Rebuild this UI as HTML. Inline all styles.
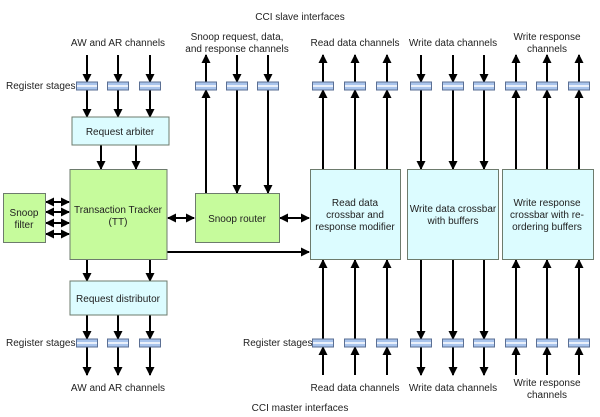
<!DOCTYPE html>
<html><head><style>
html,body{margin:0;padding:0;background:#fff;}
svg{display:block;}
text{font-family:"Liberation Sans",Arial,sans-serif;font-size:10px;fill:#222;}
</style></head><body>
<svg width="600" height="417" viewBox="0 0 600 417" xmlns="http://www.w3.org/2000/svg">
<defs>
<marker id="a" markerUnits="userSpaceOnUse" markerWidth="9" markerHeight="9" refX="8" refY="4.5" orient="auto"><path d="M0,0 L9,4.5 L0,9 z" fill="#000"/></marker>
<marker id="b" markerUnits="userSpaceOnUse" markerWidth="9" markerHeight="9" refX="1" refY="4.5" orient="auto"><path d="M9,0 L0,4.5 L9,9 z" fill="#000"/></marker>
<g id="reg"><rect x="-10.5" y="-4" width="21" height="8" fill="#a9c4ec" stroke="#5b6f93" stroke-width="1"/><line x1="-10" y1="0" x2="10" y2="0" stroke="#fff" stroke-width="1.5"/></g>
</defs>
<g stroke="#000" stroke-width="2" fill="none">
<!-- top AW/AR -->
<line x1="87" y1="55" x2="87" y2="82" marker-end="url(#a)"/><line x1="87" y1="90" x2="87" y2="117" marker-end="url(#a)"/>
<line x1="118" y1="55" x2="118" y2="82" marker-end="url(#a)"/><line x1="118" y1="90" x2="118" y2="117" marker-end="url(#a)"/>
<line x1="150" y1="55" x2="150" y2="82" marker-end="url(#a)"/><line x1="150" y1="90" x2="150" y2="117" marker-end="url(#a)"/>
<line x1="101" y1="145" x2="101" y2="169" marker-end="url(#a)"/><line x1="136" y1="145" x2="136" y2="169" marker-end="url(#a)"/>
<!-- snoop -->
<line x1="206" y1="82" x2="206" y2="55" marker-end="url(#a)"/><line x1="206" y1="193" x2="206" y2="90" marker-end="url(#a)"/>
<line x1="237" y1="55" x2="237" y2="82" marker-end="url(#a)"/><line x1="237" y1="90" x2="237" y2="193" marker-end="url(#a)"/>
<line x1="268" y1="55" x2="268" y2="82" marker-end="url(#a)"/><line x1="268" y1="90" x2="268" y2="193" marker-end="url(#a)"/>
<!-- read top -->
<line x1="323" y1="82" x2="323" y2="55" marker-end="url(#a)"/><line x1="323" y1="169" x2="323" y2="90" marker-end="url(#a)"/>
<line x1="355" y1="82" x2="355" y2="55" marker-end="url(#a)"/><line x1="355" y1="169" x2="355" y2="90" marker-end="url(#a)"/>
<line x1="387" y1="82" x2="387" y2="55" marker-end="url(#a)"/><line x1="387" y1="169" x2="387" y2="90" marker-end="url(#a)"/>
<!-- write top -->
<line x1="421" y1="55" x2="421" y2="82" marker-end="url(#a)"/><line x1="421" y1="90" x2="421" y2="169" marker-end="url(#a)"/>
<line x1="453" y1="55" x2="453" y2="82" marker-end="url(#a)"/><line x1="453" y1="90" x2="453" y2="169" marker-end="url(#a)"/>
<line x1="484" y1="55" x2="484" y2="82" marker-end="url(#a)"/><line x1="484" y1="90" x2="484" y2="169" marker-end="url(#a)"/>
<!-- wresp top -->
<line x1="516" y1="82" x2="516" y2="55" marker-end="url(#a)"/><line x1="516" y1="169" x2="516" y2="90" marker-end="url(#a)"/>
<line x1="547" y1="82" x2="547" y2="55" marker-end="url(#a)"/><line x1="547" y1="169" x2="547" y2="90" marker-end="url(#a)"/>
<line x1="579" y1="82" x2="579" y2="55" marker-end="url(#a)"/><line x1="579" y1="169" x2="579" y2="90" marker-end="url(#a)"/>
<!-- horizontal -->
<line x1="46" y1="202" x2="69" y2="202" marker-start="url(#b)" marker-end="url(#a)"/>
<line x1="46" y1="212" x2="69" y2="212" marker-start="url(#b)" marker-end="url(#a)"/>
<line x1="46" y1="223" x2="69" y2="223" marker-start="url(#b)" marker-end="url(#a)"/>
<line x1="46" y1="234" x2="69" y2="234" marker-start="url(#b)" marker-end="url(#a)"/>
<line x1="168" y1="218" x2="194" y2="218" marker-start="url(#b)" marker-end="url(#a)"/>
<line x1="280" y1="218" x2="309" y2="218" marker-start="url(#b)" marker-end="url(#a)"/>
<line x1="167" y1="252" x2="309" y2="252" marker-end="url(#a)"/>
<!-- distributor -->
<line x1="87" y1="260" x2="87" y2="281" marker-end="url(#a)"/><line x1="150" y1="260" x2="150" y2="281" marker-end="url(#a)"/>
<line x1="87" y1="315" x2="87" y2="339" marker-end="url(#a)"/><line x1="87" y1="347" x2="87" y2="375" marker-end="url(#a)"/>
<line x1="118" y1="315" x2="118" y2="339" marker-end="url(#a)"/><line x1="118" y1="347" x2="118" y2="375" marker-end="url(#a)"/>
<line x1="150" y1="315" x2="150" y2="339" marker-end="url(#a)"/><line x1="150" y1="347" x2="150" y2="375" marker-end="url(#a)"/>
<!-- read bottom -->
<line x1="323" y1="339" x2="323" y2="260" marker-end="url(#a)"/><line x1="323" y1="375" x2="323" y2="347" marker-end="url(#a)"/>
<line x1="355" y1="339" x2="355" y2="260" marker-end="url(#a)"/><line x1="355" y1="375" x2="355" y2="347" marker-end="url(#a)"/>
<line x1="387" y1="339" x2="387" y2="260" marker-end="url(#a)"/><line x1="387" y1="375" x2="387" y2="347" marker-end="url(#a)"/>
<!-- write bottom -->
<line x1="421" y1="260" x2="421" y2="339" marker-end="url(#a)"/><line x1="421" y1="347" x2="421" y2="375" marker-end="url(#a)"/>
<line x1="453" y1="260" x2="453" y2="339" marker-end="url(#a)"/><line x1="453" y1="347" x2="453" y2="375" marker-end="url(#a)"/>
<line x1="484" y1="260" x2="484" y2="339" marker-end="url(#a)"/><line x1="484" y1="347" x2="484" y2="375" marker-end="url(#a)"/>
<!-- wresp bottom -->
<line x1="516" y1="339" x2="516" y2="260" marker-end="url(#a)"/><line x1="516" y1="375" x2="516" y2="347" marker-end="url(#a)"/>
<line x1="547" y1="339" x2="547" y2="260" marker-end="url(#a)"/><line x1="547" y1="375" x2="547" y2="347" marker-end="url(#a)"/>
<line x1="579" y1="339" x2="579" y2="260" marker-end="url(#a)"/><line x1="579" y1="375" x2="579" y2="347" marker-end="url(#a)"/>
</g>
<!-- boxes -->
<g stroke="#6d7b6d" stroke-width="1">
<rect x="72" y="117" width="97" height="28" fill="#dcfcff"/>
<rect x="70" y="169.5" width="97" height="90" fill="#c6fb9c"/>
<rect x="3.5" y="193.5" width="42" height="49" fill="#c6fb9c"/>
<rect x="195.5" y="193.5" width="84" height="49" fill="#c6fb9c"/>
<rect x="70" y="281" width="97" height="34" fill="#dcfcff"/>
<rect x="310.5" y="169.5" width="90" height="90" fill="#dcfcff"/>
<rect x="407.5" y="169.5" width="91" height="90" fill="#dcfcff"/>
<rect x="502.5" y="169.5" width="91" height="90" fill="#dcfcff"/>
</g>
<!-- registers -->
<g>
<use href="#reg" x="87" y="86"/><use href="#reg" x="118" y="86"/><use href="#reg" x="150" y="86"/>
<use href="#reg" x="206" y="86"/><use href="#reg" x="237" y="86"/><use href="#reg" x="268" y="86"/>
<use href="#reg" x="323" y="86"/><use href="#reg" x="355" y="86"/><use href="#reg" x="387" y="86"/>
<use href="#reg" x="421" y="86"/><use href="#reg" x="453" y="86"/><use href="#reg" x="484" y="86"/>
<use href="#reg" x="516" y="86"/><use href="#reg" x="547" y="86"/><use href="#reg" x="579" y="86"/>
<use href="#reg" x="87" y="343"/><use href="#reg" x="118" y="343"/><use href="#reg" x="150" y="343"/>
<use href="#reg" x="323" y="343"/><use href="#reg" x="355" y="343"/><use href="#reg" x="387" y="343"/>
<use href="#reg" x="421" y="343"/><use href="#reg" x="453" y="343"/><use href="#reg" x="484" y="343"/>
<use href="#reg" x="516" y="343"/><use href="#reg" x="547" y="343"/><use href="#reg" x="579" y="343"/>
</g>
<!-- text -->
<g text-anchor="middle">
<text x="300" y="20">CCI slave interfaces</text>
<text x="118" y="46">AW and AR channels</text>
<text x="237" y="40">Snoop request, data,</text>
<text x="237" y="52">and response channels</text>
<text x="355" y="46">Read data channels</text>
<text x="453" y="46">Write data channels</text>
<text x="547" y="40">Write response</text>
<text x="547" y="52">channels</text>
<text x="120" y="135">Request arbiter</text>
<text x="118" y="213">Transaction Tracker</text>
<text x="118" y="225">(TT)</text>
<text x="24" y="216">Snoop</text>
<text x="24" y="228">filter</text>
<text x="237" y="222">Snoop router</text>
<text x="118" y="302">Request distributor</text>
<text x="355" y="206">Read data</text>
<text x="355" y="218">crossbar and</text>
<text x="355" y="230">response modifier</text>
<text x="453" y="212">Write data crossbar</text>
<text x="453" y="224">with buffers</text>
<text x="547" y="206">Write response</text>
<text x="547" y="218">crossbar with re-</text>
<text x="547" y="230">ordering buffers</text>
<text x="118" y="391">AW and AR channels</text>
<text x="355" y="391">Read data channels</text>
<text x="453" y="391">Write data channels</text>
<text x="547" y="386">Write response</text>
<text x="547" y="398">channels</text>
<text x="300" y="411">CCI master interfaces</text>
</g>
<text x="6" y="89">Register stages</text>
<text x="6" y="346">Register stages</text>
<text x="243" y="346">Register stages</text>
</svg>
</body></html>
